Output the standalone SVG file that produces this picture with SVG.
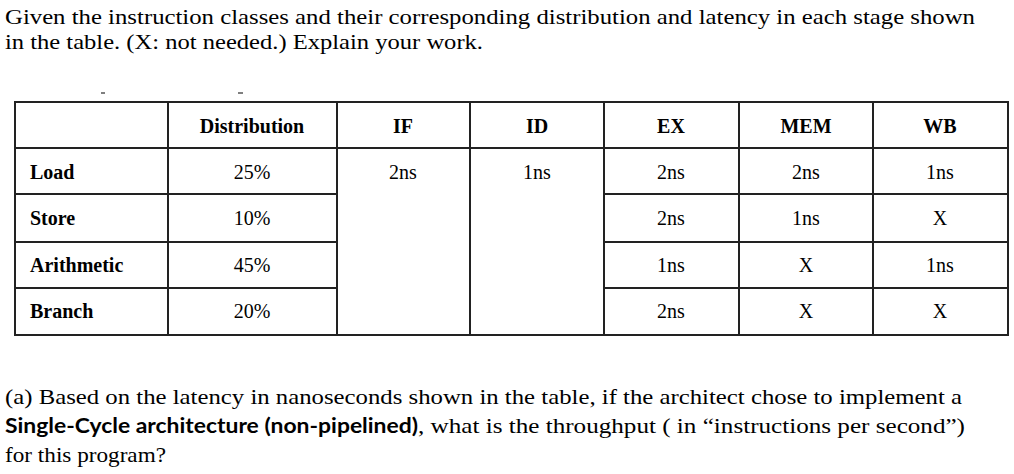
<svg xmlns="http://www.w3.org/2000/svg" width="1014" height="474" viewBox="0 0 1014 474">
<style>
.t{font-family:"Liberation Serif","Times New Roman",serif;font-size:22px;fill:#000}
.b{font-family:"Lato","Open Sans",sans-serif;font-weight:bold;font-size:21px;fill:#000}
.h{font-family:"Liberation Serif",serif;font-weight:bold;font-size:20px;text-anchor:middle;fill:#000}
.c{font-family:"Liberation Serif",serif;font-size:20px;text-anchor:middle;fill:#000}
.l{font-family:"Liberation Serif",serif;font-weight:bold;font-size:20px;fill:#000}
.g{stroke:#222;stroke-width:2;fill:none}
</style>
<rect width="1014" height="474" fill="#fff"/>
<text class="t" x="5" y="24" textLength="970" lengthAdjust="spacingAndGlyphs">Given the instruction classes and their corresponding distribution and latency in each stage shown</text>
<text class="t" x="5" y="49" textLength="478" lengthAdjust="spacingAndGlyphs">in the table. (X: not needed.) Explain your work.</text>
<line x1="101" y1="93" x2="105" y2="93" stroke="#555" stroke-width="1.5"/>
<line x1="238" y1="93" x2="243" y2="93" stroke="#555" stroke-width="1.5"/>
<g id="table">
<rect class="g" x="15" y="102" width="993" height="233"/>
<line class="g" x1="15" y1="148" x2="1008" y2="148"/>
<line class="g" x1="15" y1="194" x2="337" y2="194"/>
<line class="g" x1="15" y1="242" x2="337" y2="242"/>
<line class="g" x1="15" y1="288" x2="337" y2="288"/>
<line class="g" x1="604" y1="194" x2="1008" y2="194"/>
<line class="g" x1="604" y1="242" x2="1008" y2="242"/>
<line class="g" x1="604" y1="288" x2="1008" y2="288"/>
<line class="g" x1="168" y1="102" x2="168" y2="335"/>
<line class="g" x1="337" y1="102" x2="337" y2="335"/>
<line class="g" x1="470" y1="102" x2="470" y2="335"/>
<line class="g" x1="604" y1="102" x2="604" y2="335"/>
<line class="g" x1="739" y1="102" x2="739" y2="335"/>
<line class="g" x1="873" y1="102" x2="873" y2="335"/>
</g>
<g id="header">
<text class="h" x="252" y="133">Distribution</text>
<text class="h" x="403" y="133">IF</text>
<text class="h" x="537" y="133">ID</text>
<text class="h" x="671" y="133">EX</text>
<text class="h" x="806" y="133">MEM</text>
<text class="h" x="940" y="133">WB</text>
</g>
<g id="rows">
<text class="l" x="30" y="179">Load</text>
<text class="l" x="30" y="225">Store</text>
<text class="l" x="30" y="272">Arithmetic</text>
<text class="l" x="30" y="318">Branch</text>
<text class="c" x="252" y="179">25%</text>
<text class="c" x="252" y="225">10%</text>
<text class="c" x="252" y="272">45%</text>
<text class="c" x="252" y="318">20%</text>
<text class="c" x="403" y="179">2ns</text>
<text class="c" x="537" y="179">1ns</text>
<text class="c" x="671" y="179">2ns</text>
<text class="c" x="806" y="179">2ns</text>
<text class="c" x="940" y="179">1ns</text>
<text class="c" x="671" y="225">2ns</text>
<text class="c" x="806" y="225">1ns</text>
<text class="c" x="940" y="225">X</text>
<text class="c" x="671" y="272">1ns</text>
<text class="c" x="806" y="272">X</text>
<text class="c" x="940" y="272">1ns</text>
<text class="c" x="671" y="318">2ns</text>
<text class="c" x="806" y="318">X</text>
<text class="c" x="940" y="318">X</text>
</g>
<text class="t" x="5" y="404" textLength="957" lengthAdjust="spacingAndGlyphs">(a) Based on the latency in nanoseconds shown in the table, if the architect chose to implement a</text>
<text x="5" y="433"><tspan class="b" textLength="413" lengthAdjust="spacingAndGlyphs">Single-Cycle architecture (non-pipelined)</tspan><tspan class="t" textLength="547" lengthAdjust="spacingAndGlyphs">, what is the throughput ( in “instructions per second”)</tspan></text>
<text class="t" x="5" y="462" textLength="161" lengthAdjust="spacingAndGlyphs">for this program?</text>
</svg>
